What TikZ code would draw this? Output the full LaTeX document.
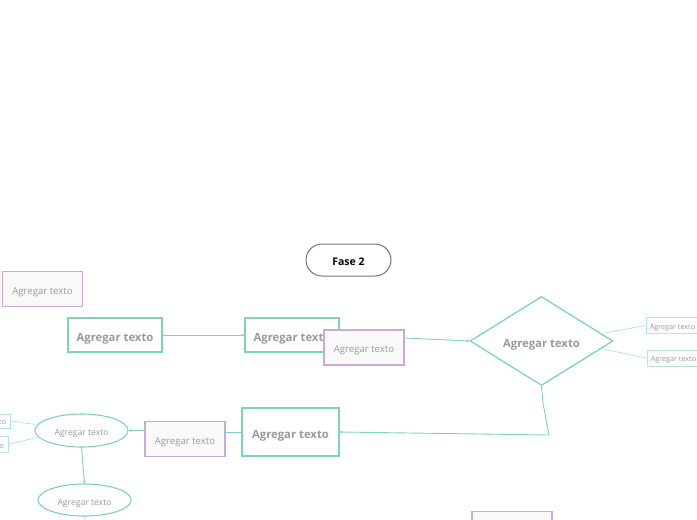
\documentclass[tikz,border=0pt]{standalone}
\usepackage{fontspec}
\setmainfont{Open Sans}
\usepackage{tikz}
\usetikzlibrary{arrows.meta,shapes.geometric}
\definecolor{mint}{HTML}{7DD3C2}
\definecolor{lightmint}{HTML}{B5E6DC}
\definecolor{lilac}{HTML}{C6ACDC}
\definecolor{paper}{HTML}{F9F9F9}
\definecolor{ink}{HTML}{9A9A9A}

\begin{document}
\begin{tikzpicture}
[x=1pt,y=-1pt,
main/.style={rectangle,draw=mint,line width=1.3pt,fill=white,minimum width=94pt,minimum height=34pt,inner sep=0pt,text height=13pt,text depth=0pt,text=ink,font=\fontsize{11.3}{12}\selectfont\bfseries},
note/.style={rectangle,draw=lilac,line width=1.1pt,fill=paper,minimum width=80pt,minimum height=35pt,inner sep=0pt,text height=10pt,text depth=0pt,text=ink,font=\fontsize{9.6}{10}\selectfont},
leaf/.style={rectangle,draw=lightmint,line width=0.9pt,fill=white,minimum width=53pt,minimum height=16pt,inner sep=0pt,text height=7.3pt,text depth=0pt,text=ink,font=\fontsize{7.2}{8}\selectfont},
oval/.style={ellipse,draw=mint,line width=1.1pt,fill=white,minimum width=93pt,minimum height=33pt,inner sep=0pt,text height=10pt,text depth=0pt,text=ink,font=\fontsize{8.6}{9}\selectfont},
link/.style={draw=mint,line width=0.9pt},
arr/.style={link,-{Stealth[length=3pt,width=3pt]}},
thin/.style={draw=lightmint,line width=0.8pt}]
\useasboundingbox (0,0) rectangle (697,520);
\clip (0,0) rectangle (697,520);
\node[rectangle,rounded corners=16pt,draw=black!55,line width=1pt,minimum width=85pt,minimum height=32pt,inner sep=0pt,text height=11.5pt,text depth=0pt,font=\fontsize{10.5}{12}\selectfont\bfseries] (fase) at (348.5,260) {Fase 2};
\node[note] (n1) at (42.5,289) {Agregar texto};
\node[main] (a) at (115,335) {Agregar texto};
\node[main] (b) at (292,335) {Agregar texto};
\node[note] (c) at (364,347.5) {Agregar texto};
\node[diamond,aspect=1.6,draw=mint,line width=1.3pt,fill=white,minimum width=143pt,minimum height=89pt,inner sep=0pt,text height=13pt,text depth=0pt,text=ink,font=\fontsize{11.3}{12}\selectfont\bfseries] (q) at (541.5,341) {Agregar texto};
\node[leaf] (r1) at (672.5,325.5) {Agregar texto};
\node[leaf] (r2) at (673.5,358) {Agregar texto};
\node[main,minimum width=97pt,minimum height=48pt] (d) at (290.5,432) {Agregar texto};
\node[note] (e) at (185,439) {Agregar texto};
\node[oval] (f) at (81.5,430.5) {Agregar texto};
\node[leaf,minimum height=14pt] (l1) at (-16.5,421) {Agregar texto};
\node[leaf] (l2) at (-18.5,444.5) {Agregar texto};
\node[oval,minimum height=32pt] (g) at (84.5,500) {Agregar texto};
\node[note] (h) at (512,529) {};
\coordinate (k1) at (543,403);
\coordinate (k2) at (549,435);
\coordinate (g1) at (86,530);
\draw[arr] (a.east) -- (b.west);
\draw[arr] (c.east |- 0,338) -- (q.west);
\draw[thin] (q.east) ++(-9,-8) -- (r1.west);
\draw[thin] (q.east) ++(-11,8) -- (r2.west);
\draw[link] (q.south) -- (k1) -- (k2);
\draw[arr] (k2) -- (d.east);
\draw[link] (d.west) -- (e.east |- d.west);
\draw[arr] (e.west |- f.east) -- (f.east);
\draw[thin] (f.west) ++(1,-6) -- (l1.east);
\draw[thin] (f.west) ++(2,7) -- (l2.east);
\draw[arr] (f.south) -- (g.north);
\draw[thin] (g.south) -- (g1);
\end{tikzpicture}
\end{document}
